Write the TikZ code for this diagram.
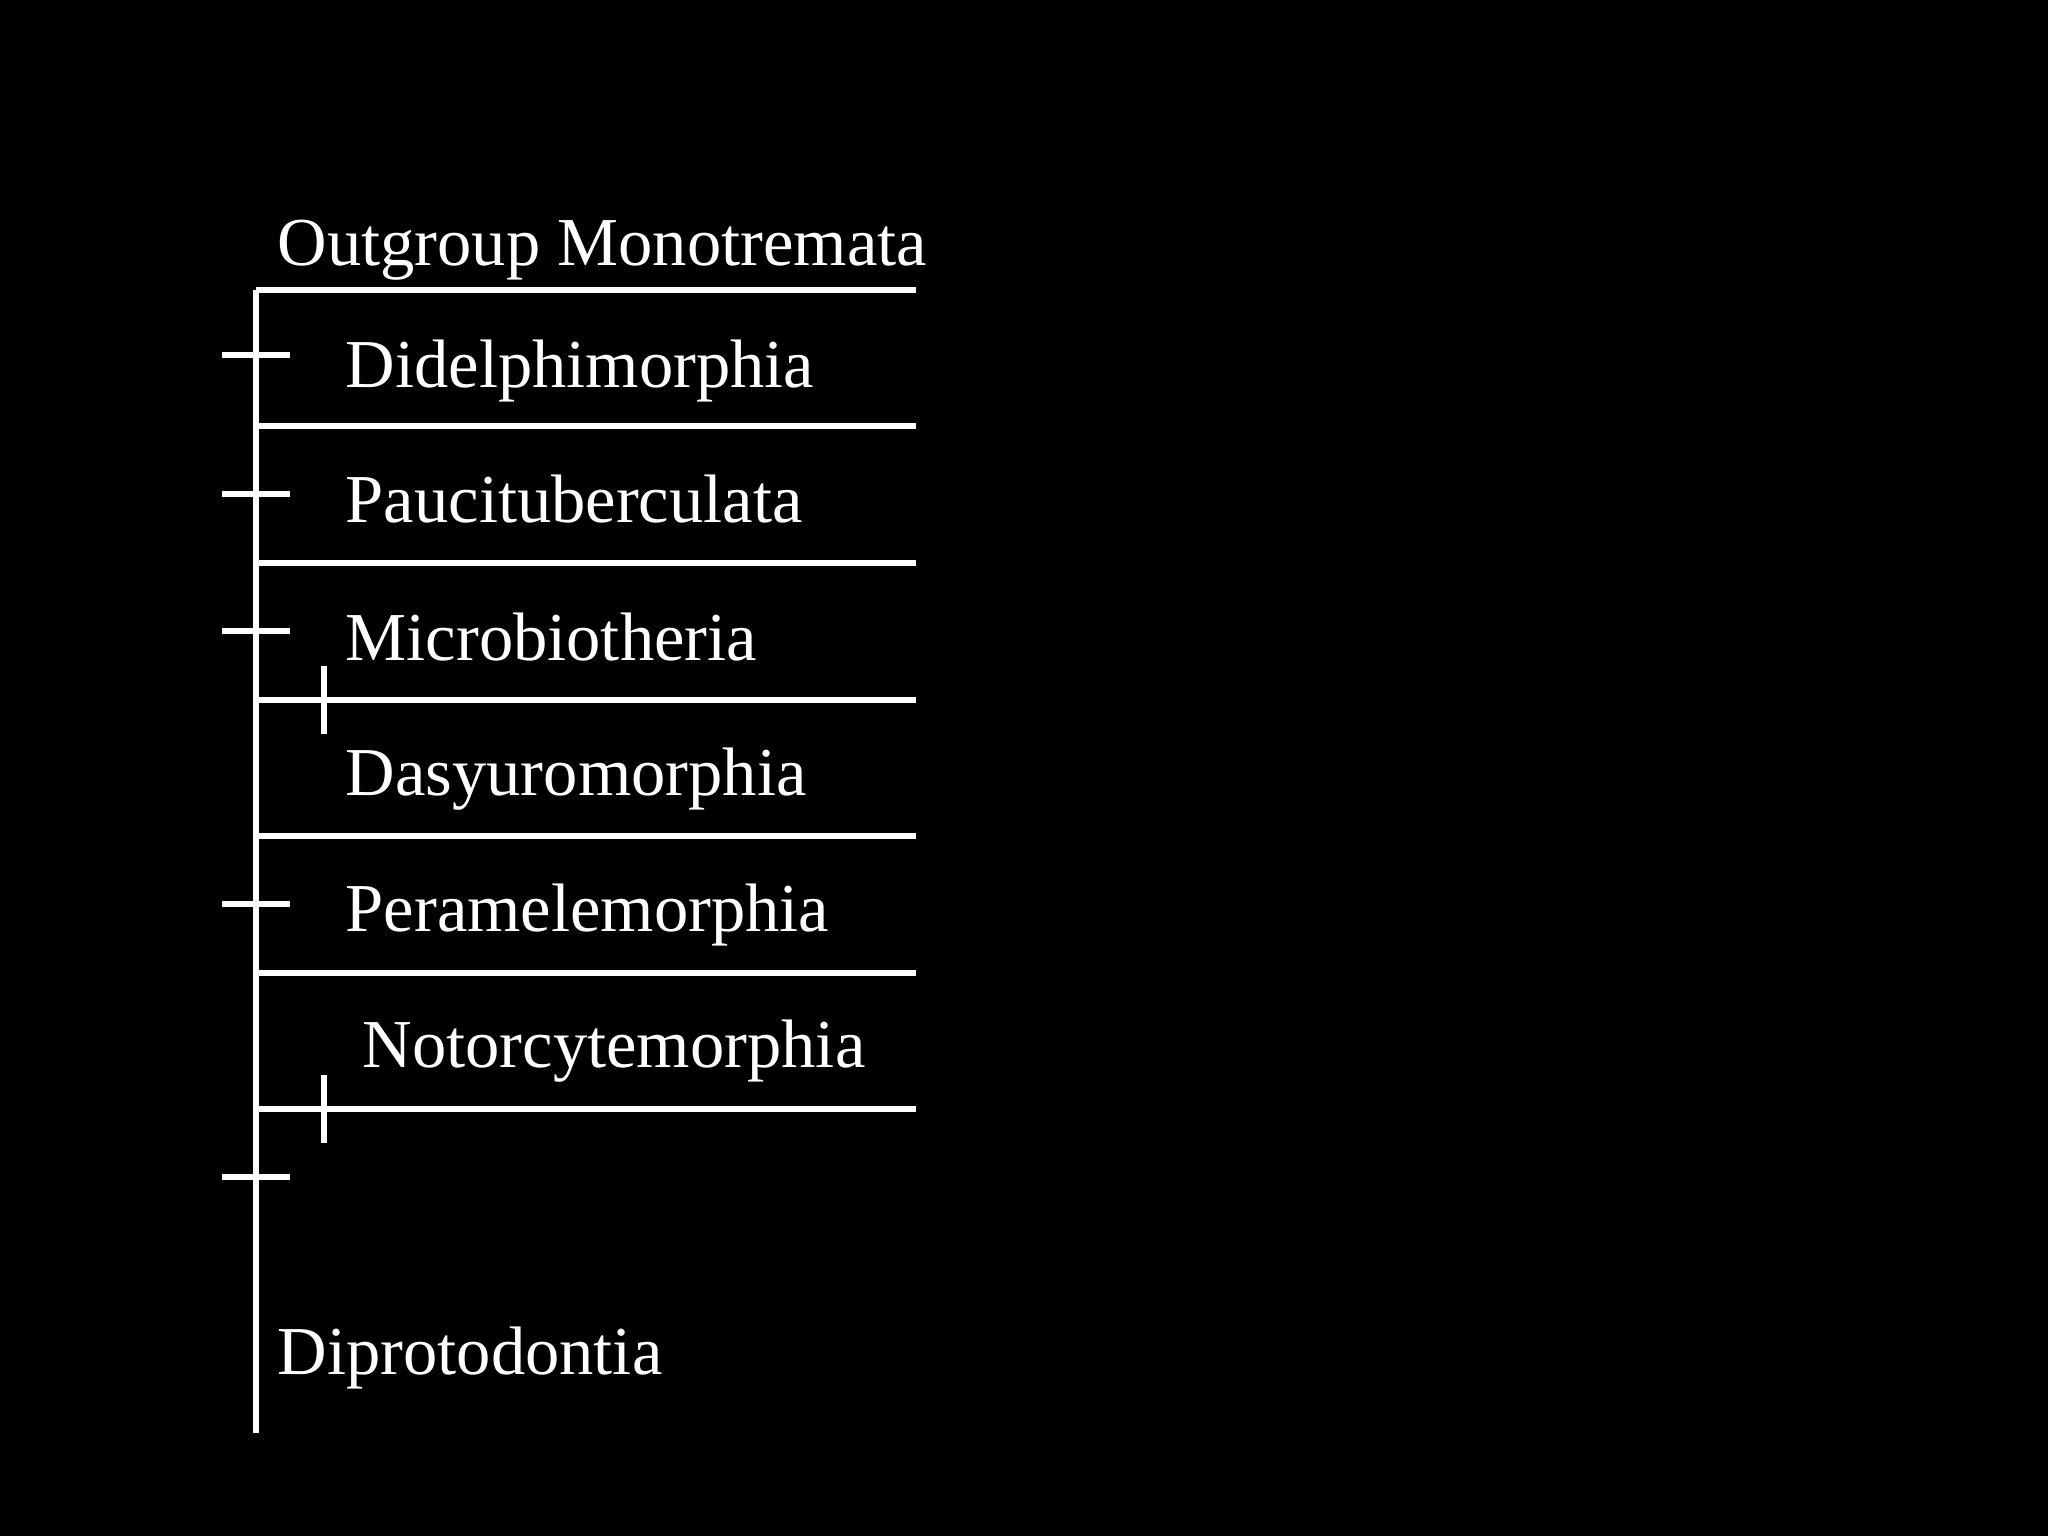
\documentclass[tikz,border=0pt]{standalone}
\usepackage{fontspec}
\setmainfont{Liberation Serif}
\begin{document}
\begin{tikzpicture}[x=0.01cm, y=-0.01cm]
	\tikzset{br/.style={draw=white, line width=1.5pt}, lbl/.style={anchor=base west, inner sep=0pt, text=white, font=\fontsize{19.5}{22}\selectfont}};

	\fill[black] (0,0) rectangle (2048,1536);

	\coordinate (top) at (256, 290);
	\coordinate (bot) at (256, 1433);
	\coordinate (o) at (916, 290);
	\coordinate (b1) at (256, 426);
	\coordinate (e1) at (916, 426);
	\coordinate (b2) at (256, 563);
	\coordinate (e2) at (916, 563);
	\coordinate (b3) at (256, 700);
	\coordinate (e3) at (916, 700);
	\coordinate (b4) at (256, 836);
	\coordinate (e4) at (916, 836);
	\coordinate (b5) at (256, 973);
	\coordinate (e5) at (916, 973);
	\coordinate (b6) at (256, 1109);
	\coordinate (e6) at (916, 1109);

	\node[lbl] (out) at (277, 265) {Outgroup Monotremata};
	\node[lbl] (did) at (345, 387) {Didelphimorphia};
	\node[lbl] (pau) at (345, 522) {Paucituberculata};
	\node[lbl] (mic) at (345, 660) {Microbiotheria};
	\node[lbl] (das) at (345, 795) {Dasyuromorphia};
	\node[lbl] (per) at (345, 931) {Peramelemorphia};
	\node[lbl] (not) at (362, 1067) {Notorcytemorphia};
	\node[lbl] (dip) at (277, 1374) {Diprotodontia};

	\draw[br] (top) to (bot);
	\draw[br] (top) to (o);
	\draw[br] (b1) to (e1);
	\draw[br] (b2) to (e2);
	\draw[br] (b3) to (e3);
	\draw[br] (b4) to (e4);
	\draw[br] (b5) to (e5);
	\draw[br] (b6) to (e6);

	% ticks
	\draw[br] (222, 355) to (290, 355);
	\draw[br] (222, 494) to (290, 494);
	\draw[br] (222, 631) to (290, 631);
	\draw[br] (222, 904) to (290, 904);
	\draw[br] (222, 1177) to (290, 1177);
	\draw[br] (324, 666) to (324, 734);
	\draw[br] (324, 1075) to (324, 1143);

\end{tikzpicture}
\end{document}
